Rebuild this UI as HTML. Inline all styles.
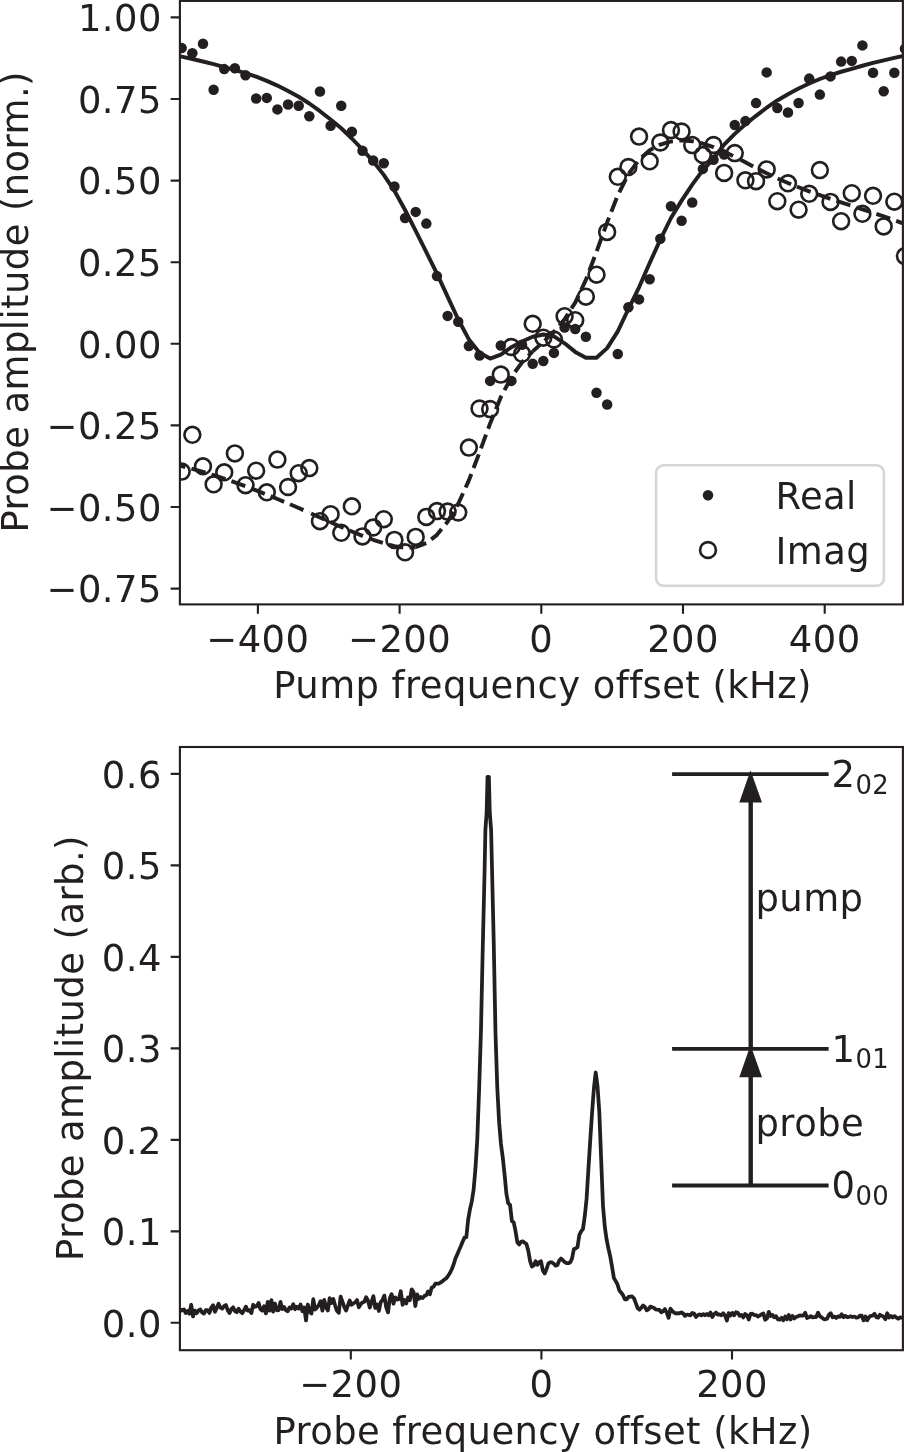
<!DOCTYPE html>
<html><head><meta charset="utf-8"><title>Probe amplitude</title>
<style>html,body{margin:0;padding:0;background:#fff;}svg{display:block;}</style></head>
<body>
<svg width="904" height="1452" viewBox="0 0 904 1452">
<rect width="904" height="1452" fill="#ffffff"/>
<defs><clipPath id="ct"><rect x="179.9" y="0.9" width="723.0" height="603.5"/></clipPath><clipPath id="cb"><rect x="179.9" y="747.0" width="723.0" height="603.2"/></clipPath></defs>
<g font-family="DejaVu Sans, Liberation Sans, sans-serif" fill="#231f20" letter-spacing="0.42">
<g clip-path="url(#ct)">
<g fill="#231f20"><circle cx="181.70" cy="48.10" r="5.25"/><circle cx="192.34" cy="53.20" r="5.25"/><circle cx="202.97" cy="43.70" r="5.25"/><circle cx="213.61" cy="89.70" r="5.25"/><circle cx="224.24" cy="69.10" r="5.25"/><circle cx="234.88" cy="68.20" r="5.25"/><circle cx="245.52" cy="75.30" r="5.25"/><circle cx="256.15" cy="98.50" r="5.25"/><circle cx="266.79" cy="97.90" r="5.25"/><circle cx="277.42" cy="109.40" r="5.25"/><circle cx="288.06" cy="104.50" r="5.25"/><circle cx="298.70" cy="105.80" r="5.25"/><circle cx="309.33" cy="116.20" r="5.25"/><circle cx="319.97" cy="91.50" r="5.25"/><circle cx="330.60" cy="125.80" r="5.25"/><circle cx="341.24" cy="105.80" r="5.25"/><circle cx="351.88" cy="131.70" r="5.25"/><circle cx="362.51" cy="150.80" r="5.25"/><circle cx="373.15" cy="160.50" r="5.25"/><circle cx="383.78" cy="163.20" r="5.25"/><circle cx="394.42" cy="186.50" r="5.25"/><circle cx="405.06" cy="218.10" r="5.25"/><circle cx="415.69" cy="211.90" r="5.25"/><circle cx="426.33" cy="223.60" r="5.25"/><circle cx="436.96" cy="276.10" r="5.25"/><circle cx="447.60" cy="315.90" r="5.25"/><circle cx="458.24" cy="321.70" r="5.25"/><circle cx="468.87" cy="346.10" r="5.25"/><circle cx="479.51" cy="355.50" r="5.25"/><circle cx="490.14" cy="380.90" r="5.25"/><circle cx="500.78" cy="345.50" r="5.25"/><circle cx="511.42" cy="380.90" r="5.25"/><circle cx="522.05" cy="344.80" r="5.25"/><circle cx="532.69" cy="363.80" r="5.25"/><circle cx="543.32" cy="361.00" r="5.25"/><circle cx="553.96" cy="352.90" r="5.25"/><circle cx="564.60" cy="327.60" r="5.25"/><circle cx="575.23" cy="329.00" r="5.25"/><circle cx="585.87" cy="336.70" r="5.25"/><circle cx="596.50" cy="392.80" r="5.25"/><circle cx="607.14" cy="404.50" r="5.25"/><circle cx="617.78" cy="354.00" r="5.25"/><circle cx="628.41" cy="307.20" r="5.25"/><circle cx="639.05" cy="299.40" r="5.25"/><circle cx="649.68" cy="279.30" r="5.25"/><circle cx="660.32" cy="238.70" r="5.25"/><circle cx="670.96" cy="206.20" r="5.25"/><circle cx="681.59" cy="220.70" r="5.25"/><circle cx="692.23" cy="202.50" r="5.25"/><circle cx="702.86" cy="168.90" r="5.25"/><circle cx="713.50" cy="159.70" r="5.25"/><circle cx="724.14" cy="154.50" r="5.25"/><circle cx="734.77" cy="125.00" r="5.25"/><circle cx="745.41" cy="121.10" r="5.25"/><circle cx="756.04" cy="103.10" r="5.25"/><circle cx="766.68" cy="72.40" r="5.25"/><circle cx="777.32" cy="108.10" r="5.25"/><circle cx="787.95" cy="112.50" r="5.25"/><circle cx="798.59" cy="103.00" r="5.25"/><circle cx="809.22" cy="78.60" r="5.25"/><circle cx="819.86" cy="94.60" r="5.25"/><circle cx="830.50" cy="76.40" r="5.25"/><circle cx="841.13" cy="61.60" r="5.25"/><circle cx="851.77" cy="60.90" r="5.25"/><circle cx="862.40" cy="45.40" r="5.25"/><circle cx="873.04" cy="72.70" r="5.25"/><circle cx="883.68" cy="91.20" r="5.25"/><circle cx="894.31" cy="72.70" r="5.25"/><circle cx="904.95" cy="48.80" r="5.25"/></g>
<g fill="none" stroke="#231f20" stroke-width="2.64"><circle cx="181.70" cy="471.60" r="7.92"/><circle cx="192.34" cy="434.80" r="7.92"/><circle cx="202.97" cy="466.30" r="7.92"/><circle cx="213.61" cy="484.30" r="7.92"/><circle cx="224.24" cy="472.30" r="7.92"/><circle cx="234.88" cy="453.40" r="7.92"/><circle cx="245.52" cy="485.20" r="7.92"/><circle cx="256.15" cy="470.70" r="7.92"/><circle cx="266.79" cy="492.30" r="7.92"/><circle cx="277.42" cy="459.60" r="7.92"/><circle cx="288.06" cy="487.00" r="7.92"/><circle cx="298.70" cy="473.20" r="7.92"/><circle cx="309.33" cy="468.10" r="7.92"/><circle cx="319.97" cy="521.20" r="7.92"/><circle cx="330.60" cy="514.20" r="7.92"/><circle cx="341.24" cy="532.80" r="7.92"/><circle cx="351.88" cy="506.30" r="7.92"/><circle cx="362.51" cy="536.40" r="7.92"/><circle cx="373.15" cy="527.50" r="7.92"/><circle cx="383.78" cy="519.20" r="7.92"/><circle cx="394.42" cy="539.90" r="7.92"/><circle cx="405.06" cy="552.30" r="7.92"/><circle cx="415.69" cy="536.90" r="7.92"/><circle cx="426.33" cy="516.90" r="7.92"/><circle cx="436.96" cy="511.10" r="7.92"/><circle cx="447.60" cy="511.60" r="7.92"/><circle cx="458.24" cy="512.50" r="7.92"/><circle cx="468.87" cy="447.60" r="7.92"/><circle cx="479.51" cy="408.50" r="7.92"/><circle cx="490.14" cy="409.10" r="7.92"/><circle cx="500.78" cy="374.60" r="7.92"/><circle cx="511.42" cy="347.00" r="7.92"/><circle cx="522.05" cy="353.80" r="7.92"/><circle cx="532.69" cy="323.80" r="7.92"/><circle cx="543.32" cy="337.70" r="7.92"/><circle cx="553.96" cy="339.50" r="7.92"/><circle cx="564.60" cy="316.20" r="7.92"/><circle cx="575.23" cy="320.20" r="7.92"/><circle cx="585.87" cy="296.70" r="7.92"/><circle cx="596.50" cy="274.70" r="7.92"/><circle cx="607.14" cy="231.90" r="7.92"/><circle cx="617.78" cy="176.80" r="7.92"/><circle cx="628.41" cy="167.00" r="7.92"/><circle cx="639.05" cy="136.60" r="7.92"/><circle cx="649.68" cy="161.30" r="7.92"/><circle cx="660.32" cy="142.50" r="7.92"/><circle cx="670.96" cy="130.10" r="7.92"/><circle cx="681.59" cy="131.50" r="7.92"/><circle cx="692.23" cy="145.10" r="7.92"/><circle cx="702.86" cy="155.00" r="7.92"/><circle cx="713.50" cy="145.00" r="7.92"/><circle cx="724.14" cy="172.90" r="7.92"/><circle cx="734.77" cy="153.10" r="7.92"/><circle cx="745.41" cy="180.30" r="7.92"/><circle cx="756.04" cy="181.20" r="7.92"/><circle cx="766.68" cy="169.40" r="7.92"/><circle cx="777.32" cy="201.20" r="7.92"/><circle cx="787.95" cy="183.30" r="7.92"/><circle cx="798.59" cy="209.70" r="7.92"/><circle cx="809.22" cy="193.80" r="7.92"/><circle cx="819.86" cy="170.10" r="7.92"/><circle cx="830.50" cy="201.90" r="7.92"/><circle cx="841.13" cy="221.20" r="7.92"/><circle cx="851.77" cy="193.20" r="7.92"/><circle cx="862.40" cy="213.80" r="7.92"/><circle cx="873.04" cy="195.80" r="7.92"/><circle cx="883.68" cy="226.40" r="7.92"/><circle cx="894.31" cy="201.70" r="7.92"/><circle cx="904.95" cy="256.10" r="7.92"/></g>
<polyline fill="none" stroke="#231f20" stroke-width="3.96" stroke-linejoin="round" points="171.06,54.30 181.70,56.60 192.34,59.00 202.97,61.50 213.61,64.10 224.24,67.10 234.88,70.10 245.52,73.10 256.15,76.70 266.79,80.90 277.42,85.60 288.06,91.00 298.70,96.80 309.33,103.50 319.97,111.20 330.60,119.50 341.24,128.30 351.88,138.50 362.51,149.60 373.15,161.30 383.78,174.90 394.42,190.80 405.06,210.00 415.69,230.80 426.33,252.20 436.96,273.70 447.60,296.60 458.24,319.50 468.87,339.40 479.51,352.70 490.14,358.60 500.78,354.60 511.42,347.20 522.05,341.50 532.69,336.70 543.32,334.50 553.96,336.30 564.60,343.30 575.23,351.90 585.87,357.70 596.50,357.70 607.14,348.10 617.78,331.40 628.41,309.00 639.05,287.30 649.68,263.00 660.32,239.60 670.96,218.00 681.59,200.60 692.23,184.70 702.86,170.20 713.50,158.70 724.14,144.66 734.77,133.90 745.41,124.34 756.04,115.81 766.68,107.74 777.32,100.46 787.95,94.19 798.59,88.57 809.22,83.47 819.86,79.00 830.50,75.05 841.13,71.75 851.77,68.79 862.40,65.77 873.04,62.93 883.68,60.40 894.31,57.94 904.95,55.58 915.58,53.33"/>
<polyline fill="none" stroke="#231f20" stroke-width="3.96" stroke-linejoin="round" stroke-dasharray="14.65 6.33" stroke-dashoffset="0.00" points="171.06,463.60 181.70,466.12 192.34,468.91 202.97,471.96 213.61,475.23 224.24,478.73 234.88,482.44 245.52,486.33 256.15,490.39 266.79,494.61 277.42,498.97 288.06,503.45 298.70,508.03 309.33,512.71"/>
<polyline fill="none" stroke="#231f20" stroke-width="3.96" stroke-linejoin="round" stroke-dasharray="14.65 6.33" stroke-dashoffset="19.09" points="309.33,512.71 319.97,517.45 330.60,522.24 341.24,526.97 351.88,531.53 362.51,535.83 373.15,539.76 383.78,543.22 394.42,546.09 405.06,547.80 415.69,547.22"/>
<polyline fill="none" stroke="#231f20" stroke-width="3.96" stroke-linejoin="round" stroke-dasharray="14.65 6.33" stroke-dashoffset="3.37" points="415.69,547.22 426.33,543.19 436.96,534.82 447.60,521.76 458.24,503.71 468.87,480.38 479.51,452.46 490.14,423.44 500.78,397.19 511.42,376.93 522.05,362.36 532.69,351.39"/>
<polyline fill="none" stroke="#231f20" stroke-width="3.96" stroke-linejoin="round" stroke-dasharray="14.65 6.33" stroke-dashoffset="4.84" points="532.69,351.39 543.32,341.89 553.96,331.84 564.60,319.37 575.23,302.62 585.87,279.83 596.50,251.85 607.14,222.37 617.78,195.28 628.41,174.18 639.05,159.66 649.68,150.30 660.32,144.62 670.96,141.45 681.59,140.40 692.23,141.19 702.86,143.51 713.50,147.07 724.14,151.59 734.77,156.76"/>
<polyline fill="none" stroke="#231f20" stroke-width="3.96" stroke-linejoin="round" stroke-dasharray="14.65 6.33" stroke-dashoffset="14.88" points="734.77,156.76 745.41,162.30 756.04,167.92 766.68,173.33 777.32,178.33 787.95,182.97 798.59,187.28 809.22,191.33 819.86,195.16 830.50,198.82 841.13,202.36 851.77,205.84 862.40,209.30 873.04,212.80 883.68,216.39 894.31,220.12 904.95,224.03 915.58,228.18"/>
</g>
<rect x="656.1" y="465.2" width="227.8" height="120.6" rx="7.4" ry="7.4" fill="#ffffff" fill-opacity="0.8" stroke="#d6d6d6" stroke-width="2.64"/>
<circle cx="708.0" cy="495.3" r="5.25" fill="#231f20"/>
<circle cx="708.0" cy="550.0" r="7.92" fill="none" stroke="#231f20" stroke-width="2.64"/>
<text x="775.50" y="509.00" text-anchor="start" font-size="36.94">Real</text>
<text x="775.50" y="563.90" text-anchor="start" font-size="36.94">Imag</text>
<rect x="179.9" y="0.9" width="723.0" height="603.5" fill="none" stroke="#231f20" stroke-width="2.11" stroke-linejoin="miter"/>
<path d="M179.90 17.40H170.66M179.90 99.00H170.66M179.90 180.60H170.66M179.90 262.20H170.66M179.90 343.80H170.66M179.90 425.40H170.66M179.90 507.00H170.66M179.90 588.60H170.66M257.90 604.40V613.64M399.60 604.40V613.64M541.30 604.40V613.64M683.00 604.40V613.64M824.70 604.40V613.64" stroke="#231f20" stroke-width="2.11" fill="none"/>
<text x="161.80" y="31.10" text-anchor="end" font-size="36.94">1.00</text>
<text x="161.80" y="112.70" text-anchor="end" font-size="36.94">0.75</text>
<text x="161.80" y="194.30" text-anchor="end" font-size="36.94">0.50</text>
<text x="161.80" y="275.90" text-anchor="end" font-size="36.94">0.25</text>
<text x="161.80" y="357.50" text-anchor="end" font-size="36.94">0.00</text>
<text x="161.80" y="439.10" text-anchor="end" font-size="36.94">−0.25</text>
<text x="161.80" y="520.70" text-anchor="end" font-size="36.94">−0.50</text>
<text x="161.80" y="602.30" text-anchor="end" font-size="36.94">−0.75</text>
<text x="257.90" y="651.50" text-anchor="middle" font-size="36.94">−400</text>
<text x="399.60" y="651.50" text-anchor="middle" font-size="36.94">−200</text>
<text x="541.30" y="651.50" text-anchor="middle" font-size="36.94">0</text>
<text x="683.00" y="651.50" text-anchor="middle" font-size="36.94">200</text>
<text x="824.70" y="651.50" text-anchor="middle" font-size="36.94">400</text>
<text x="542.60" y="697.90" text-anchor="middle" font-size="36.94">Pump frequency offset (kHz)</text>
<text transform="translate(27.9 301.8) rotate(-90)" text-anchor="middle" font-size="36.94">Probe amplitude (norm.)</text>
<g clip-path="url(#cb)">
<polyline fill="none" stroke="#231f20" stroke-width="3.76" stroke-linejoin="round" points="174.82,1311.53 176.64,1316.06 178.46,1315.56 180.28,1309.55 182.11,1310.25 183.93,1309.42 185.75,1313.15 187.57,1310.96 189.39,1313.68 191.22,1304.72 193.04,1316.42 194.86,1310.65 196.68,1313.28 198.50,1310.42 200.33,1309.54 202.15,1312.39 203.97,1313.59 205.79,1310.01 207.61,1310.13 209.44,1312.96 211.26,1307.56 213.08,1305.29 214.90,1311.81 216.72,1308.09 218.55,1303.74 220.37,1307.49 222.19,1308.63 224.01,1306.08 225.83,1304.99 227.66,1310.20 229.48,1313.10 231.30,1309.16 233.12,1307.34 234.94,1311.17 236.77,1312.25 238.59,1308.69 240.41,1311.53 242.23,1313.18 244.05,1310.27 245.88,1306.66 247.70,1310.59 249.52,1310.18 251.34,1313.04 253.16,1304.77 254.99,1306.84 256.81,1306.16 258.63,1303.00 260.45,1309.33 262.27,1310.63 264.10,1306.19 265.92,1313.42 267.74,1301.79 269.56,1310.65 271.38,1300.14 273.21,1311.61 275.03,1303.66 276.85,1310.27 278.67,1310.14 280.49,1301.89 282.32,1309.08 284.14,1306.92 285.96,1310.37 287.78,1311.27 289.60,1307.41 291.43,1308.54 293.25,1304.24 295.07,1309.20 296.89,1306.66 298.71,1308.59 300.54,1304.57 302.36,1311.26 304.18,1307.36 306.00,1320.44 307.82,1304.51 309.65,1311.50 311.47,1313.63 313.29,1299.24 315.11,1309.53 316.93,1307.63 318.76,1305.14 320.58,1301.14 322.40,1310.62 324.22,1299.82 326.04,1307.45 327.87,1310.45 329.69,1298.04 331.51,1303.09 333.33,1299.04 335.15,1305.52 336.98,1310.80 338.80,1312.85 340.62,1296.62 342.44,1301.61 344.27,1306.92 346.09,1310.53 347.91,1305.51 349.73,1300.45 351.55,1304.77 353.38,1303.33 355.20,1302.43 357.02,1300.07 358.84,1307.34 360.66,1304.27 362.49,1302.46 364.31,1301.81 366.13,1297.21 367.95,1300.50 369.77,1307.59 371.60,1301.58 373.42,1296.19 375.24,1307.86 377.06,1304.36 378.88,1310.96 380.71,1302.19 382.53,1299.87 384.35,1295.59 386.17,1307.23 387.99,1312.39 389.82,1298.29 391.64,1294.11 393.46,1303.63 395.28,1297.43 397.10,1299.64 398.93,1299.13 400.75,1291.21 402.57,1304.83 404.39,1300.01 406.21,1303.50 408.04,1297.48 409.86,1300.25 411.68,1289.37 413.50,1291.82 415.32,1306.05 417.15,1294.42 418.97,1298.80 420.79,1297.02 422.61,1298.08 424.43,1295.89 426.26,1295.28 428.08,1291.39 429.90,1294.34 431.72,1287.43 433.54,1286.72 435.37,1283.75 437.19,1283.66 439.01,1283.51 440.83,1282.31 442.65,1281.09 444.48,1279.52 446.30,1278.25 448.12,1275.86 449.94,1272.97 451.76,1269.22 453.59,1264.46 455.41,1258.62 457.23,1254.43 459.05,1250.11 460.87,1246.01 462.70,1241.48 464.52,1237.63 466.34,1237.24 468.16,1219.68 469.98,1209.28 471.81,1201.30 473.63,1189.63 475.45,1168.52 477.27,1139.44 479.09,1090.37 480.92,1032.52 482.74,948.63 484.56,872.19 485.40,830.00 486.60,813.00 487.20,790.00 487.50,776.90 488.90,776.90 489.20,790.00 489.80,813.00 491.10,830.00 493.67,939.29 495.49,1032.90 497.31,1088.32 499.14,1122.39 500.96,1144.03 502.78,1157.43 504.60,1174.78 506.42,1193.85 508.25,1203.41 510.07,1204.96 511.89,1221.01 513.71,1222.45 515.53,1231.20 517.36,1242.38 519.18,1244.56 521.00,1241.84 522.82,1241.39 524.64,1242.70 526.47,1244.04 528.29,1250.75 530.11,1261.17 531.93,1266.55 533.75,1265.47 535.58,1261.16 537.40,1264.83 539.22,1262.20 541.04,1261.28 542.86,1270.58 544.69,1273.46 546.51,1269.10 548.33,1263.53 550.15,1262.25 551.97,1262.47 553.80,1263.71 555.62,1265.69 557.44,1264.98 559.26,1260.55 561.08,1258.60 562.91,1260.23 564.73,1262.15 566.55,1263.22 568.37,1263.10 570.19,1262.49 572.02,1258.69 573.84,1249.24 575.66,1248.31 577.48,1247.17 579.30,1235.11 581.13,1231.33 582.95,1229.11 584.77,1216.34 586.59,1198.70 588.41,1169.20 590.24,1140.27 592.06,1112.96 593.88,1088.57 595.70,1072.50 597.52,1086.11 599.35,1112.61 601.17,1159.89 602.99,1205.84 604.81,1226.87 606.63,1239.69 608.46,1248.74 610.28,1256.62 612.10,1267.17 613.92,1278.14 615.74,1281.13 617.57,1284.68 619.39,1290.58 621.21,1292.64 623.03,1295.19 624.85,1299.34 626.68,1299.31 628.50,1296.95 630.32,1296.66 632.14,1296.47 633.96,1298.25 635.79,1303.14 637.61,1307.99 639.43,1309.66 641.25,1307.64 643.07,1305.58 644.90,1307.04 646.72,1310.20 648.54,1309.32 650.36,1306.66 652.18,1307.25 654.01,1307.98 655.83,1309.46 657.65,1309.77 659.47,1309.84 661.29,1312.26 663.12,1311.18 664.94,1309.09 666.76,1312.72 668.58,1317.82 670.40,1308.67 672.23,1310.82 674.05,1312.59 675.87,1313.50 677.69,1313.13 679.51,1313.28 681.34,1312.49 683.16,1313.51 684.98,1315.87 686.80,1314.51 688.62,1314.88 690.45,1315.34 692.27,1312.96 694.09,1313.54 695.91,1316.99 697.73,1315.23 699.56,1314.33 701.38,1315.32 703.20,1314.10 705.02,1315.29 706.84,1313.89 708.67,1315.34 710.49,1312.55 712.31,1316.99 714.13,1314.20 715.95,1312.59 717.78,1314.66 719.60,1314.44 721.42,1315.23 723.24,1313.26 725.06,1315.60 726.89,1320.51 728.71,1313.06 730.53,1315.51 732.35,1312.90 734.17,1315.29 736.00,1312.25 737.82,1312.81 739.64,1315.70 741.46,1314.94 743.28,1317.49 745.11,1313.93 746.93,1315.27 748.75,1319.43 750.57,1313.84 752.39,1313.65 754.22,1315.03 756.04,1315.09 757.86,1316.54 759.68,1315.56 761.50,1314.34 763.33,1313.38 765.15,1319.77 766.97,1318.47 768.79,1311.80 770.61,1315.94 772.44,1314.93 774.26,1317.30 776.08,1316.17 777.90,1319.42 779.72,1319.67 781.55,1317.85 783.37,1320.30 785.19,1316.44 787.01,1319.35 788.83,1315.05 790.66,1319.40 792.48,1315.97 794.30,1318.44 796.12,1316.79 797.94,1316.38 799.77,1315.30 801.59,1315.64 803.41,1315.53 805.23,1312.82 807.05,1318.05 808.88,1317.36 810.70,1316.17 812.52,1317.39 814.34,1317.17 816.16,1317.06 817.99,1312.74 819.81,1316.20 821.63,1317.31 823.45,1318.95 825.27,1319.30 827.10,1318.67 828.92,1314.73 830.74,1313.16 832.56,1317.37 834.38,1316.54 836.21,1317.97 838.03,1316.32 839.85,1316.84 841.67,1314.23 843.49,1317.20 845.32,1315.85 847.14,1317.06 848.96,1316.77 850.78,1316.37 852.60,1317.03 854.43,1316.54 856.25,1317.72 858.07,1317.34 859.89,1315.75 861.71,1315.70 863.54,1320.38 865.36,1316.46 867.18,1320.37 869.00,1317.24 870.82,1315.80 872.65,1315.53 874.47,1313.78 876.29,1317.08 878.11,1317.64 879.93,1314.80 881.76,1315.83 883.58,1316.61 885.40,1319.20 887.22,1313.20 889.05,1317.47 890.87,1316.00 892.69,1317.49 894.51,1316.10 896.33,1317.42 898.16,1318.87 899.98,1317.44 901.80,1317.58 903.62,1317.50 905.44,1315.81 907.27,1317.80"/>
</g>
<path d="M672.1 774.05H828.6M672.1 1048.85H828.6M672.1 1185.5H828.6" stroke="#231f20" stroke-width="3.8" fill="none"/>
<path d="M750.7 1185.5V1068.85M750.7 1048.85V794.05" stroke="#231f20" stroke-width="4.4" fill="none"/>
<path d="M750.50 770.15L762.00 802.55L739.30 802.55Z" fill="#231f20"/>
<path d="M750.50 1044.95L762.00 1077.35L739.30 1077.35Z" fill="#231f20"/>
<text x="831.5" y="786.95" font-size="36.94">2<tspan font-size="25.86" dy="6.6">02</tspan></text>
<text x="831.5" y="1061.75" font-size="36.94">1<tspan font-size="25.86" dy="6.6">01</tspan></text>
<text x="831.5" y="1198.40" font-size="36.94">0<tspan font-size="25.86" dy="6.6">00</tspan></text>
<text x="755.50" y="911.10" text-anchor="start" font-size="36.94">pump</text>
<text x="755.50" y="1136.30" text-anchor="start" font-size="36.94">probe</text>
<rect x="179.9" y="747.0" width="723.0" height="603.2" fill="none" stroke="#231f20" stroke-width="2.11"/>
<path d="M179.90 1322.80H170.66M179.90 1231.32H170.66M179.90 1139.84H170.66M179.90 1048.36H170.66M179.90 956.88H170.66M179.90 865.40H170.66M179.90 773.92H170.66M350.80 1350.20V1359.44M541.40 1350.20V1359.44M732.00 1350.20V1359.44" stroke="#231f20" stroke-width="2.11" fill="none"/>
<text x="161.80" y="1336.80" text-anchor="end" font-size="36.94">0.0</text>
<text x="161.80" y="1245.32" text-anchor="end" font-size="36.94">0.1</text>
<text x="161.80" y="1153.84" text-anchor="end" font-size="36.94">0.2</text>
<text x="161.80" y="1062.36" text-anchor="end" font-size="36.94">0.3</text>
<text x="161.80" y="970.88" text-anchor="end" font-size="36.94">0.4</text>
<text x="161.80" y="879.40" text-anchor="end" font-size="36.94">0.5</text>
<text x="161.80" y="787.92" text-anchor="end" font-size="36.94">0.6</text>
<text x="350.80" y="1397.30" text-anchor="middle" font-size="36.94">−200</text>
<text x="541.40" y="1397.30" text-anchor="middle" font-size="36.94">0</text>
<text x="732.00" y="1397.30" text-anchor="middle" font-size="36.94">200</text>
<text x="543.00" y="1444.20" text-anchor="middle" font-size="36.94">Probe frequency offset (kHz)</text>
<text transform="translate(83.0 1048.0) rotate(-90)" text-anchor="middle" font-size="36.94">Probe amplitude (arb.)</text>
</g></svg>
</body></html>
